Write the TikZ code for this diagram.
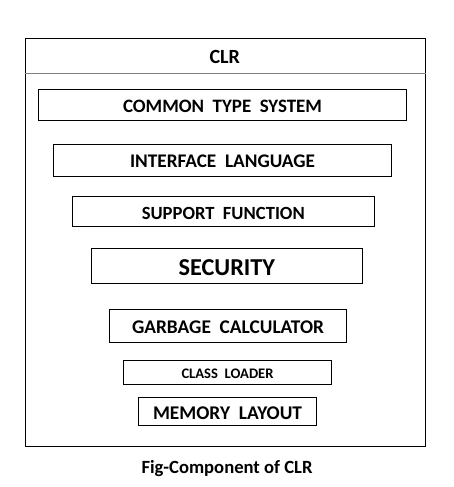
\documentclass[tikz,border=0pt]{standalone}
\usepackage{fontspec}
\setmainfont{Carlito}
\newlength\fitw
\newcommand\fittext[2]{%
  \settowidth\fitw{\fontsize{10}{12}\selectfont\bfseries #2}%
  \pgfmathsetmacro\fitsz{10*#1/\fitw}%
  \fontsize{\fitsz}{\fitsz}\selectfont\bfseries #2}
\begin{document}
\begin{tikzpicture}[x=1pt,y=-1pt,
  compbox/.style={draw=black, line width=1pt, inner sep=0pt},
  lbl/.style={inner sep=0pt, text=black}]
\useasboundingbox (0,0) rectangle (453,487);
\fill[white] (0,0) rectangle (453,487);
\node[draw=black, line width=1pt, minimum width=400pt, minimum height=408pt, inner sep=0pt] (outer) at (225.6,242.4) {};
\coordinate (hl) at (24.5,73.3);
\coordinate (hr) at (425.6,73.3);
\draw[black!50, line width=1.3pt] (hl) -- (hr);
\node[lbl] (clr) at (224.8,56.5) {\fittext{30.5}{CLR}};
\node[compbox, minimum width=368.4pt, minimum height=30.7pt] (cts) at (222.5,104.7) {};
\node[compbox, minimum width=338.4pt, minimum height=31.7pt] (il) at (222.5,160.2) {};
\node[compbox, minimum width=302pt, minimum height=30pt] (sf) at (223.3,211.7) {};
\node[compbox, minimum width=271pt, minimum height=35pt] (sec) at (226.8,265.8) {};
\node[compbox, minimum width=237.4pt, minimum height=32.7pt] (gc) at (228,325.7) {};
\node[compbox, minimum width=208.4pt, minimum height=23.6pt] (cl) at (227.5,372.5) {};
\node[compbox, minimum width=178.4pt, minimum height=27.6pt] (ml) at (227.5,411.5) {};
\node[lbl, yshift=-1.5pt] (ctst) at (cts) {\fittext{199}{COMMON\ \ TYPE\ \ SYSTEM}};
\node[lbl, yshift=-1.5pt] (ilt) at (il) {\fittext{185}{INTERFACE\ \ LANGUAGE}};
\node[lbl, yshift=-1.5pt] (sft) at (sf) {\fittext{163}{SUPPORT\ \ FUNCTION}};
\node[lbl, yshift=-1.5pt] (sect) at (sec) {\fittext{96.5}{SECURITY}};
\node[lbl, yshift=-1.5pt] (gct) at (gc) {\fittext{192}{GARBAGE\ \ CALCULATOR}};
\node[lbl, yshift=-1pt] (clt) at (cl) {\fittext{92}{CLASS\ \ LOADER}};
\node[lbl, yshift=-1.5pt] (mlt) at (ml) {\fittext{149}{MEMORY\ \ LAYOUT}};
\node[lbl, anchor=base] (cap) at (227,473.3) {\fittext{171}{Fig-Component of CLR}};
\end{tikzpicture}
\end{document}
